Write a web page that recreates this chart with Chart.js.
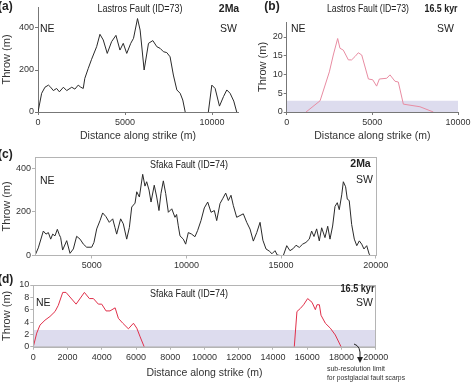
<!DOCTYPE html>
<html lang="en">
<head>
<meta charset="UTF-8">
<title>Throw profiles</title>
<script src="https://cdn.jsdelivr.net/npm/chart.js@4.4.2/dist/chart.umd.min.js"></script>
<style>
  body { margin: 0; background: #fff; }
  canvas { position: absolute; }
</style>
</head>
<body>
<canvas id="ca" width="245" height="145" style="left:0;top:0"></canvas>
<canvas id="cb" width="229" height="145" style="left:245px;top:0"></canvas>
<canvas id="cc" width="474" height="125" style="left:0;top:145px"></canvas>
<canvas id="cd" width="474" height="113" style="left:0;top:270px"></canvas>
<script>
// (a) Lastros Fault, 2 Ma throw (null = gap in the profile)
var aDist = [0,210,400,600,730,880,1070,1230,1460,1650,1940,2120,2310,2460,2600,2690,2890,3080,3370,3560,
  3750,3980,4230,4480,4710,4900,5100,5330,5490,5720,5870,6100,6350,6600,6830,7020,7210,7400,7590,7780,
  7980,8170,8320,8460,9000,9790,9990,10180,10430,10660,10850,11040,11250,11420];
var aThrow = [0,89,118,128,118,102,112,96,118,102,118,109,128,118,112,160,208,251,311,370,
  343,279,335,365,295,327,279,327,351,445,390,200,327,340,311,303,287,283,263,176,
  105,89,57,0,null,0,128,112,28,73,105,89,52,0];
var aXTicks = [0, 5000, 10000];
var aYTicks = [0, 200, 400];

// (b) Lastros Fault, 16.5 kyr throw
var bDist = [1130,1950,2490,2720,2975,3110,3305,3600,3790,3990,4180,4380,4770,5020,5250,5410,5840,6030,6320,6515,6810,7780,8560];
var bThrow = [0,3,10.7,15.2,19.6,17,16.5,13.9,13.9,14.8,15.8,15.2,8.8,8.6,6.9,8.8,9,9.9,8.2,8,2.1,1.4,0];
var bLimit = 3;
var bXTicks = [0, 5000, 10000];
var bYTicks = [0, 5, 10, 15, 20];

// (c) Sfaka Fault, 2 Ma throw
var cDist = [2000,2175,2440,2580,2705,2830,2935,3055,3180,3285,3355,3460,3675,3850,4025,4200,4380,4555,4730,4995,
  5115,5260,5435,5575,5750,5925,6105,6225,6315,6525,6665,6845,6985,7110,7285,7375,7515,7690,7810,7900,
  8025,8130,8300,8430,8550,8655,8780,8905,9045,9225,9395,9480,9570,9660,9835,9960,10100,10275,10450,10590,
  10770,10945,11125,11300,11475,11600,11775,11915,12075,12215,12355,12475,12655,12830,13005,13185,13360,13535,13715,13890,
  14040,14205,14380,14520,14680,14800,14950,15120,15300,15470,15645,15790,15965,16140,16315,16490,16615,16740,16880,17020,
  17145,17320,17465,17585,17725,17850,17970,18075,18205,18290,18410,18500,18600,18730,18870,19000,19135,19260,19380,19525,
  19660,19730];
var cThrow = [0,35,112,98,105,75,98,90,120,95,82,25,68,10,30,88,75,52,38,38,
  60,122,160,195,178,152,168,128,98,168,145,75,128,222,240,292,268,372,318,338,
  300,245,322,268,206,284,342,284,198,214,175,188,136,90,75,52,105,98,86,114,
  160,218,245,198,206,160,238,260,286,252,276,230,175,183,191,152,121,66,105,152,
  70,30,20,8,22,2,0,0,45,22,32,47,37,52,60,75,112,87,122,67,
  127,82,134,75,135,225,242,210,278,338,315,258,252,142,75,45,67,52,30,45,
  5,0];
var cXTicks = [5000, 10000, 15000, 20000];
var cYTicks = [0, 200, 400];

// (d) Sfaka Fault, 16.5 kyr throw
var dDist = [0,200,390,685,975,1270,1460,1720,1910,2500,2985,3275,3510,3800,3995,4250,4480,4780,4970,5230,
  5555,5850,6045,6240,6475,10000,15245,15400,15600,15790,16025,16280,16475,16570,16710,16805,17060,17350,17640,17975];
var dThrow = [0,2.2,3.5,4.3,4.9,5.7,6.7,8.8,8.8,6.9,8.8,7.8,7.8,6.9,6.9,5.8,5.8,6.3,4.6,3.8,
  2.9,3.8,3,1.6,0,null,0,5.7,6.2,6.8,7.8,7.2,6,6.8,6.8,5.1,3.8,3,1.9,0];
var dLimit = 2.7;
var dXTicks = [0, 2000, 4000, 6000, 8000, 10000, 12000, 14000, 16000, 18000, 20000];
var dYTicks = [0, 2, 4, 6, 8, 10];

const FONT = '"Liberation Sans", Arial, sans-serif';
Chart.defaults.font.family = FONT;
Chart.defaults.color = '#333';

function pts(xs, ys) {
  return xs.map((x, i) => ({ x: x, y: ys[i] }));
}

const panelText = {
  id: 'panelText',
  afterDraw(chart, args, opts) {
    const ctx = chart.ctx, a = chart.chartArea;
    ctx.save();
    if (opts.frame) {
      ctx.strokeStyle = '#b4b4b4';
      ctx.lineWidth = 1;
      ctx.strokeRect(Math.round(a.left) + 0.5, Math.round(a.top) + 0.5,
        Math.round(a.right - a.left), Math.round(a.bottom - a.top));
    }
    ctx.textBaseline = 'middle';
    (opts.texts || []).forEach(t => {
      ctx.font = (t.bold ? 'bold ' : '') + t.size + 'px ' + FONT;
      ctx.fillStyle = t.color || '#222';
      ctx.textAlign = t.align || 'center';
      if (t.maxW) ctx.fillText(t.text, t.x - opts.ox, t.y - opts.oy, t.maxW);
      else ctx.fillText(t.text, t.x - opts.ox, t.y - opts.oy);
    });
    if (opts.arrow) {
      const ox = opts.ox, oy = opts.oy;
      ctx.strokeStyle = '#222';
      ctx.fillStyle = '#222';
      ctx.lineWidth = 1;
      ctx.beginPath();
      ctx.moveTo(354 - ox, 344 - oy);
      ctx.quadraticCurveTo(361 - ox, 346 - oy, 360 - ox, 357 - oy);
      ctx.stroke();
      ctx.beginPath();
      ctx.moveTo(357 - ox, 357 - oy);
      ctx.lineTo(363 - ox, 357 - oy);
      ctx.lineTo(360 - ox, 363 - oy);
      ctx.closePath();
      ctx.fill();
    }
    ctx.restore();
  }
};

function axis(min, max, tickValues, color, isY, size, title) {
  return {
    type: 'linear',
    min: min, max: max,
    grid: { drawOnChartArea: false, drawTicks: true, tickLength: 3, color: color },
    border: { display: true, color: color },
    ticks: { padding: isY ? 1 : 2, maxRotation: 0, autoSkip: false,
             font: { size: 9 }, color: '#333', callback: v => String(v) },
    title: title ? { display: true, text: title, padding: 0, font: { size: isY ? 11 : 10.5 }, color: '#333' }
                 : { display: false },
    afterBuildTicks(s) {
      s.ticks = tickValues.map(v => ({ value: v }));
    },
    afterFit(s) {
      if (isY) s.width = size; else s.height = size;
      s.paddingTop = 0; s.paddingBottom = 0; s.paddingLeft = 0; s.paddingRight = 0;
    }
  };
}

function makePanel(id, o) {
  const box = o.box, area = o.area;
  const yW = area.l - o.yLeft;
  const xH = o.xBottom - area.b;
  new Chart(document.getElementById(id), {
    type: 'line',
    data: { datasets: o.datasets },
    options: {
      responsive: false,
      animation: false,
      events: [],
      layout: { padding: {
        left: o.yLeft - box.l,
        top: area.t - box.t,
        right: box.l + box.w - area.r,
        bottom: box.t + box.h - o.xBottom
      } },
      elements: { point: { radius: 0 }, line: { tension: 0 } },
      scales: {
        x: axis(o.x[0], o.x[1], o.xTicks, o.axisColor, false, xH, o.xTitle),
        y: axis(o.y[0], o.y[1], o.yTicks, o.axisColor, true, yW, 'Throw (m)')
      },
      plugins: {
        legend: { display: false },
        tooltip: { enabled: false },
        panelText: { ox: box.l, oy: box.t, frame: o.frame, texts: o.texts, arrow: o.arrow }
      }
    },
    plugins: [panelText]
  });
}

function line(xs, ys, color) {
  return { data: pts(xs, ys), borderColor: color, borderWidth: 1, fill: false, order: 1, spanGaps: false };
}
function band(x0, x1, lim) {
  return { data: pts([x0, x1], [lim, lim]), borderWidth: 0, borderColor: 'rgba(0,0,0,0)',
           backgroundColor: '#dddcee', fill: 'origin', order: 2 };
}

makePanel('ca', {
  box: { l: 0, t: 0, w: 245, h: 145 },
  area: { l: 38, t: 7, r: 238.1, b: 112 },
  yLeft: 0.7, xBottom: 142.6,
  x: [0, 11500], y: [0, 500], xTicks: aXTicks, yTicks: aYTicks,
  axisColor: '#777', xTitle: 'Distance along strike (m)',
  datasets: [line(aDist, aThrow, '#2a2a2a')],
  texts: [
    { text: '(a)', x: -2, y: 7, size: 12, bold: true, align: 'left' },
    { text: 'Lastros Fault (ID=73)', x: 140, y: 9, size: 10.5, maxW: 85 },
    { text: '2Ma', x: 229, y: 9, size: 10.5, bold: true },
    { text: 'NE', x: 40, y: 29, size: 10.5, align: 'left' },
    { text: 'SW', x: 237, y: 29, size: 10.5, align: 'right' }
  ]
});

makePanel('cb', {
  box: { l: 245, t: 0, w: 229, h: 145 },
  area: { l: 286.7, t: 22, r: 458, b: 112 },
  yLeft: 256.7, xBottom: 142.6,
  x: [0, 10000], y: [0, 24], xTicks: bXTicks, yTicks: bYTicks,
  axisColor: '#777', xTitle: 'Distance along strike (m)',
  datasets: [line(bDist, bThrow, '#e88ca2'), band(0, 10000, bLimit)],
  texts: [
    { text: '(b)', x: 272, y: 7, size: 12, bold: true },
    { text: 'Lastros Fault (ID=73)', x: 368, y: 9, size: 10.5, maxW: 82 },
    { text: '16.5 kyr', x: 441, y: 9, size: 10.5, bold: true, maxW: 33 },
    { text: 'NE', x: 291, y: 29, size: 10.5, align: 'left' },
    { text: 'SW', x: 454, y: 29, size: 10.5, align: 'right' }
  ]
});

makePanel('cc', {
  box: { l: 0, t: 145, w: 474, h: 125 },
  area: { l: 35, t: 157.3, r: 375.7, b: 255.5 },
  yLeft: 0, xBottom: 270,
  x: [2000, 20000], y: [0, 450], xTicks: cXTicks, yTicks: cYTicks,
  axisColor: '#b4b4b4', frame: true,
  datasets: [line(cDist, cThrow, '#2a2a2a')],
  texts: [
    { text: '(c)', x: -2, y: 155, size: 12, bold: true, align: 'left' },
    { text: 'Sfaka Fault (ID=74)', x: 189, y: 165, size: 10.5, maxW: 78 },
    { text: '2Ma', x: 360.5, y: 164, size: 10.5, bold: true },
    { text: 'SW', x: 373, y: 180, size: 10.5, align: 'right' },
    { text: 'NE', x: 40, y: 181, size: 10.5, align: 'left' }
  ]
});

makePanel('cd', {
  box: { l: 0, t: 270, w: 474, h: 113 },
  area: { l: 33.3, t: 285, r: 375.7, b: 346.7 },
  yLeft: 0, xBottom: 379.6,
  x: [0, 20000], y: [0, 10], xTicks: dXTicks, yTicks: dYTicks,
  axisColor: '#b4b4b4', frame: true, xTitle: 'Distance along strike (m)',
  datasets: [line(dDist, dThrow, '#e0304a'), band(0, 20000, dLimit)],
  arrow: true,
  texts: [
    { text: '(d)', x: -2, y: 280, size: 12, bold: true, align: 'left' },
    { text: 'Sfaka Fault (ID=74)', x: 189, y: 294, size: 10.5, maxW: 78 },
    { text: '16.5 kyr', x: 357.5, y: 289, size: 10.5, bold: true, maxW: 34 },
    { text: 'SW', x: 373, y: 303, size: 10.5, align: 'right' },
    { text: 'NE', x: 36, y: 303, size: 10.5, align: 'left' },
    { text: 'sub-resolution limit', x: 327, y: 369, size: 8, align: 'left', color: '#333', maxW: 58 },
    { text: 'for postglacial fault scarps', x: 327, y: 378, size: 8, align: 'left', color: '#333', maxW: 78 }
  ]
});
</script>
</body>
</html>
